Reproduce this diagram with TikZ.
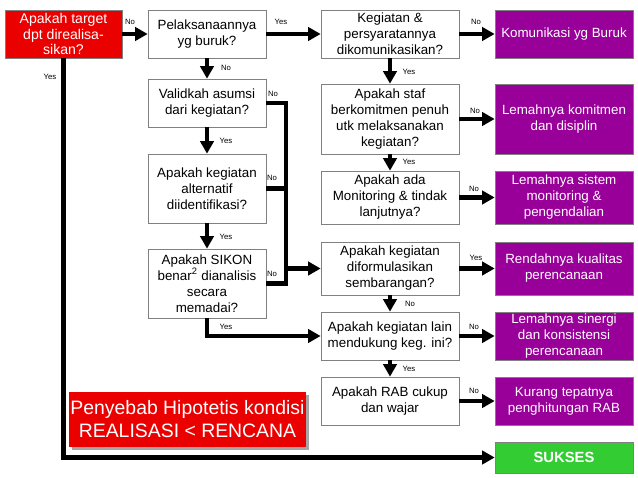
\documentclass[tikz,border=0pt]{standalone}
\usepackage{fontspec}
\setmainfont{Liberation Sans}
\usetikzlibrary{arrows.meta,shadows}

\begin{document}
\begin{tikzpicture}[x=0.025cm, y=-0.025cm,
		qbox/.style={draw=gray, fill=white, align=center, inner sep=1pt, font=\fontsize{9.5}{11.4}\selectfont},
		qleft/.style={qbox, minimum width=2.95cm},
		qmid/.style={qbox, minimum width=3.45cm},
		cbox/.style={qbox, fill=spurple, text=white, minimum width=3.45cm},
		flow/.style={line width=3.2pt, -{Triangle[length=9pt,width=9.5pt]}},
		wire/.style={line width=3.2pt},
		lbl/.style={inner sep=0pt, font=\fontsize{5.5}{6}\selectfont}]
		\definecolor{spurple}{RGB}{153,0,153}
		\definecolor{sred}{RGB}{235,0,0}
		\definecolor{sgreen}{RGB}{51,204,51}
		\useasboundingbox[fill=white] (0,0) rectangle (638,478);

		% first column
		\node (target) at (63.5,34) [qbox, fill=sred, text=white, minimum width=2.925cm, minimum height=1.2cm, font=\fontsize{10}{10.8}\selectfont] {Apakah target\\dpt direalisa-\\sikan?};
		\node (pelak) at (207,34) [qleft, minimum height=1.2cm] {Pelaksanaannya\\yg buruk?};
		\node (valid) at (207,103) [qleft, minimum height=1.2cm] {Validkah asumsi\\dari kegiatan?};
		\node (alter) at (207,188.5) [qleft, minimum height=1.725cm] {Apakah kegiatan\\alternatif\\diidentifikasi?};
		\node (sikon) at (207,283.5) [qleft, minimum height=1.725cm] {Apakah SIKON\\benar\textsuperscript{2} dianalisis\\secara\\memadai?};

		% second column
		\node (keg) at (390,34) [qmid, minimum height=1.2cm] {Kegiatan \&\\persyaratannya\\dikomunikasikan?};
		\node (staf) at (390,119) [qmid, minimum height=1.75cm] {Apakah staf\\berkomitmen penuh\\utk melaksanakan\\kegiatan?};
		\node (monit) at (390,197.5) [qmid, minimum height=1.325cm] {Apakah ada\\Monitoring \& tindak\\lanjutnya?};
		\node (diform) at (390,268.5) [qmid, minimum height=1.325cm] {Apakah kegiatan\\diformulasikan\\sembarangan?};
		\node (lain) at (390,336) [qmid, minimum height=1.2cm] {Apakah kegiatan lain\\mendukung keg. ini?};
		\node (rab) at (390,401) [qmid, minimum height=1.2cm] {Apakah RAB cukup\\dan wajar};

		% causes
		\node (komun) at (564,34) [cbox, minimum height=1.2cm] {Komunikasi yg Buruk};
		\node (komit) at (564,119) [cbox, minimum height=1.75cm] {Lemahnya komitmen\\dan disiplin};
		\node (sistem) at (564,197.5) [cbox, minimum height=1.325cm] {Lemahnya sistem\\monitoring \&\\pengendalian};
		\node (rendah) at (564,268.5) [cbox, minimum height=1.325cm] {Rendahnya kualitas\\perencanaan};
		\node (sinergi) at (564,336) [cbox, minimum height=1.2cm] {Lemahnya sinergi\\dan konsistensi\\perencanaan};
		\node (kurang) at (564,401) [cbox, minimum height=1.2cm] {Kurang tepatnya\\penghitungan RAB};
		\node (sukses) at (564,457.5) [qbox, fill=sgreen, text=white, minimum width=3.45cm, minimum height=0.775cm, font=\fontsize{10.5}{12}\selectfont\bfseries] {SUKSES};

		\node (judul) at (187.5,419.5) [qbox, draw=none, fill=sred, text=white, minimum width=5.925cm, minimum height=1.375cm, font=\fontsize{13.8}{16.4}\selectfont, drop shadow={shadow xshift=2pt, shadow yshift=-2pt, fill=gray!70, opacity=1}] {Penyebab Hipotetis kondisi\\REALISASI < RENCANA};

		% connectors
		\coordinate (jn) at (286,268.5);
		\draw[flow] (target) -- (pelak);
		\draw[flow] (pelak) -- (keg);
		\draw[flow] (keg) -- (komun);
		\draw[flow] (pelak) -- (valid);
		\draw[flow] (valid) -- (alter);
		\draw[flow] (alter) -- (sikon);
		\draw[flow] (keg) -- (staf);
		\draw[flow] (staf) -- (monit);
		\draw[flow] (diform) -- (lain);
		\draw[flow] (lain) -- (rab);
		\draw[flow] (staf) -- (komit);
		\draw[flow] (monit) -- (sistem);
		\draw[flow] (diform) -- (rendah);
		\draw[flow] (lain) -- (sinergi);
		\draw[flow] (rab) -- (kurang);
		\draw[flow] (valid.east) -| (jn) -- (diform.west);
		\draw[wire] (alter.east) -- (alter.east -| jn);
		\draw[wire] (sikon.east) -| (jn);
		\draw[flow] (sikon.south) |- (lain.west);
		\draw[flow] (target.south) |- (sukses.west);

		% yes / no labels
		\node (no1) at (130,22) [lbl] {No};
		\node (yes1) at (281,22) [lbl] {Yes};
		\node (no2) at (476,22) [lbl] {No};
		\node (yes0) at (50,77) [lbl] {Yes};
		\node (no3) at (226,68) [lbl] {No};
		\node (yes2) at (409,72) [lbl] {Yes};
		\node (no4) at (273,94) [lbl] {No};
		\node (no5) at (475,111) [lbl] {No};
		\node (yes3) at (226,141) [lbl] {Yes};
		\node (yes4) at (409,162) [lbl] {Yes};
		\node (no6) at (272,178) [lbl] {No};
		\node (no7) at (474,189) [lbl] {No};
		\node (yes5) at (226,237) [lbl] {Yes};
		\node (yes6) at (476,258) [lbl] {Yes};
		\node (no8) at (272,274) [lbl] {No};
		\node (no9) at (410,304) [lbl] {No};
		\node (yes7) at (226,327) [lbl] {Yes};
		\node (no10) at (474,327) [lbl] {No};
		\node (yes8) at (409,369) [lbl] {Yes};
		\node (no11) at (474,391) [lbl] {No};
	\end{tikzpicture}
\end{document}
